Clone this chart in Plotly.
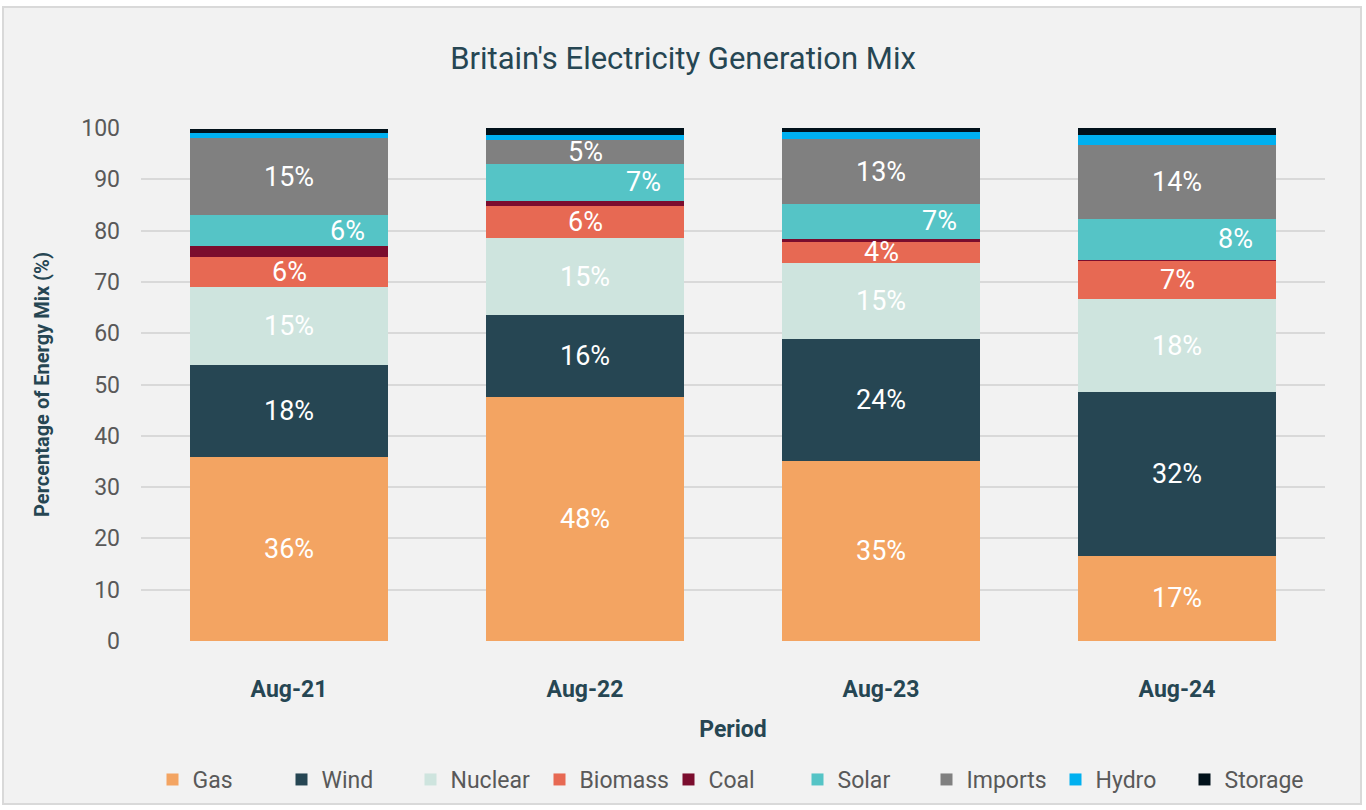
import plotly.graph_objects as go

periods = ["Aug-21", "Aug-22", "Aug-23", "Aug-24"]
series_names = ["Gas", "Wind", "Nuclear", "Biomass", "Coal", "Solar", "Imports", "Hydro", "Storage"]
gas = [35.9, 47.6, 35.1, 16.6]
wind = [17.9, 15.9, 23.8, 31.9]
nuclear = [15.2, 15.1, 14.8, 18.2]
biomass = [5.9, 6.2, 4.1, 7.4]
coal = [2.1, 1.0, 0.6, 0.2]
solar = [6.0, 7.2, 6.8, 8.0]
imports = [15.0, 4.6, 12.6, 14.4]
hydro = [1.1, 1.1, 1.4, 2.0]
storage = [0.8, 1.3, 0.8, 1.3]
colors = ["#F3A462", "#264653", "#CEE4DE", "#E76953", "#7B0D2E", "#55C4C6", "#808080", "#00B0F0", "#01111A"]
labelled = {"Gas": 0, "Wind": 0, "Nuclear": 0, "Biomass": 0, "Solar": 58, "Imports": 0}

values = [gas, wind, nuclear, biomass, coal, solar, imports, hydro, storage]

FONT = "Roboto, 'Liberation Sans Narrow', sans-serif"
DARK = "#264653"
GREY = "#595959"

fig = go.Figure()
for name, vals, col in zip(series_names, values, colors):
    fig.add_trace(go.Bar(x=periods, y=vals, name=name, marker=dict(color=col, line=dict(width=0))))

annotations = []
cum = [0.0] * len(periods)
for name, vals in zip(series_names, values):
    if name in labelled:
        for i, p in enumerate(periods):
            annotations.append(dict(
                x=p, y=cum[i] + vals[i] / 2, xref="x", yref="y",
                text=f"{int(vals[i] + 0.5)}%", showarrow=False, xshift=labelled[name],
                font=dict(family=FONT, size=27, color="white")))
    cum = [c + v for c, v in zip(cum, vals)]

fig.update_layout(
    width=1366, height=810,
    barmode="stack", bargap=0.334,
    paper_bgcolor="white", plot_bgcolor="#F2F2F2",
    margin=dict(l=141, r=41, t=128, b=169, autoexpand=False),
    title=dict(text="Britain's Electricity Generation Mix", x=0.5, xanchor="center",
               y=1 - 58 / 810, yanchor="middle", yref="container",
               font=dict(family=FONT, size=31, color=DARK)),
    font=dict(family=FONT, color=GREY),
    legend=dict(orientation="h", x=0.5, xanchor="center", y=-0.27, yanchor="middle",
                font=dict(family=FONT, size=23, color=GREY), bgcolor="rgba(0,0,0,0)",
                itemwidth=30, traceorder="normal", entrywidth=84, entrywidthmode="pixels"),
    annotations=annotations,
    shapes=[dict(type="rect", xref="paper", yref="paper", layer="below",
                 x0=(3 - 141) / 1184, x1=(1361 - 141) / 1184,
                 y0=(641 - 804) / 513, y1=(641 - 7) / 513,
                 fillcolor="#F2F2F2", line=dict(color="#D9D9D9", width=2))],
)
fig.update_xaxes(showgrid=False, showline=False, ticks="", ticklabelstandoff=32,
                 tickfont=dict(family=FONT, size=23, color=DARK, weight="bold"),
                 title=dict(text="<b>Period</b>", standoff=18, font=dict(family=FONT, size=23, color=DARK)))
fig.update_yaxes(range=[0, 100], dtick=10, showgrid=True, gridcolor="#D9D9D9", gridwidth=1.5,
                 zeroline=False, showline=False, ticks="", ticklabelstandoff=20,
                 tickfont=dict(family=FONT, size=23, color=GREY),
                 title=dict(text="<b>Percentage of Energy Mix (%)</b>", standoff=26,
                            font=dict(family=FONT, size=20, color=DARK)))

fig.write_html("out.html")
